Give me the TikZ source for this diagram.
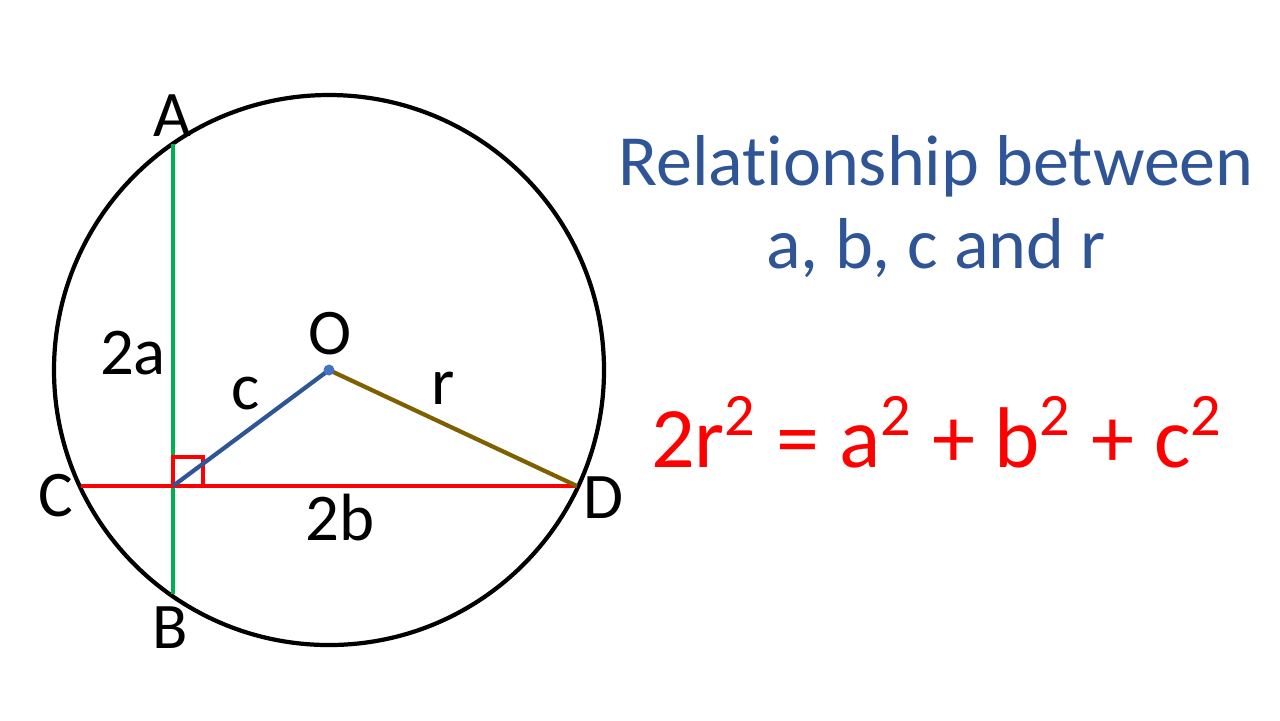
\documentclass[tikz,border=0pt]{standalone}
\usepackage{fontspec}
\setmainfont{Carlito}[Ligatures=NoCommon]
\usepackage{tikz}

\definecolor{titleblue}{RGB}{47,85,151}
\definecolor{chordgreen}{RGB}{0,176,80}
\definecolor{radbrown}{RGB}{127,96,0}
\definecolor{dotblue}{RGB}{68,114,196}

\begin{document}
\begin{tikzpicture}[x=0.01cm,y=-0.01cm,line width=1.2pt]
    \tikzstyle{point}=[font=\fontsize{18.5}{20}\selectfont,text=black]
    \tikzstyle{length}=[font=\fontsize{19}{20}\selectfont,text=black]
    \useasboundingbox (0,0) rectangle (1280,720);
    % circle and its points
    \coordinate (O) at (329,370);
    \coordinate (Atop) at (173,144);
    \coordinate (Bbot) at (173,594);
    \coordinate (Cleft) at (81,486);
    \coordinate (Dright) at (577,486);
    \coordinate (P) at (173,486);% foot, where the chords cross
    \draw (O) circle [radius=275];
    \draw[chordgreen] (Atop) -- (Bbot);
    \draw[red] (Cleft) -- (Dright);
    \draw[red] (P) rectangle +(30,-29);% right angle
    \draw[titleblue] (P) -- (O);
    \draw[radbrown] (O) -- (Dright);
    \fill[dotblue] (O) circle [radius=5.5];
    % labels
    \node[point] (A) at (172,116) {A};
    \node[point] (B) at (170,628) {B};
    \node[point] (C) at (56,496) {C};
    \node[point] (D) at (603,498) {D};
    \node[point] (Olab) at (330,334) {O};
    \node[length] (twoa) at (133,353) {2a};
    \node[length] (c) at (246,394) {c};
    \node[length] (r) at (443,388) {r};
    \node[length] (twob) at (340,518) {2b};
    % the text on the right
    \node[text=titleblue,font=\fontsize{20.5}{25}\selectfont] (title) at (936,166) {Relationship between};
    \node[text=titleblue,font=\fontsize{20.5}{25}\selectfont] (sub) at (936,248) {a, b, c and r};
    \node[text=red,font=\fontsize{24.5}{30}\selectfont] (rel) at (937,432)
    {2r\textsuperscript{2} = a\textsuperscript{2} + b\textsuperscript{2} + c\textsuperscript{2}};
\end{tikzpicture}
\end{document}
